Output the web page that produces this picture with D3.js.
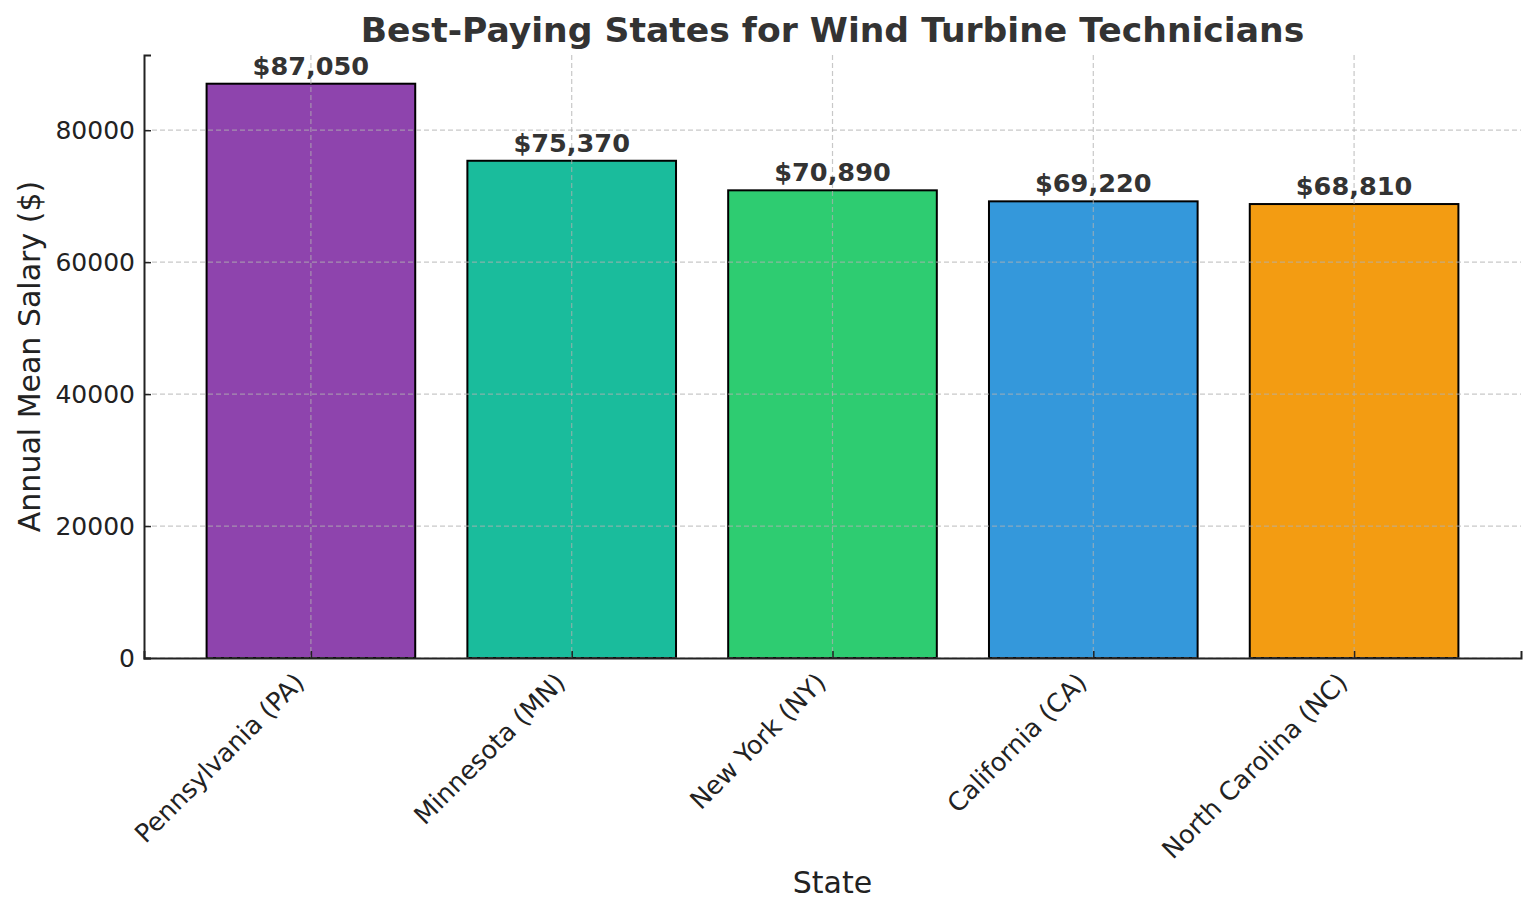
<!DOCTYPE html>
<html>
<head>
<meta charset="utf-8">
<script src="https://cdn.jsdelivr.net/npm/d3@7"></script>
<style>
  body { margin: 0; background: #fff; }
  text { font-family: "DejaVu Sans", sans-serif; }
</style>
</head>
<body>
<div class="chart-container"></div>
<script>
const states = ["Pennsylvania (PA)", "Minnesota (MN)", "New York (NY)", "California (CA)", "North Carolina (NC)"];
const salaries = [87050, 75370, 70890, 69220, 68810];
const barColors = ["#8e44ad", "#1abc9c", "#2ecc71", "#3498db", "#f39c12"];
const yTicks = [0, 20000, 40000, 60000, 80000];

const width = 1536;
const height = 916;
const margin = { top: 55, right: 15, bottom: 258, left: 144 };
const innerW = width - margin.left - margin.right;
const innerH = height - margin.top - margin.bottom;

const svg = d3
  .select(".chart-container")
  .append("svg")
  .attr("width", width)
  .attr("height", height);

const g = svg.append("g").attr("transform", `translate(${margin.left},${margin.top})`);

// matplotlib-like limits: bars of width 0.8, 5% margins
const x = d3.scaleLinear().domain([-0.64, states.length - 1 + 0.64]).range([0, innerW]);
const y = d3.scaleLinear().domain([0, d3.max(salaries) * 1.05]).range([innerH, 0]);
const barW = x(0.8) - x(0);

// bars
g.selectAll("rect.bar")
  .data(salaries)
  .enter()
  .append("rect")
  .attr("class", "bar")
  .attr("x", (d, i) => x(i) - barW / 2)
  .attr("y", (d) => y(d))
  .attr("width", barW)
  .attr("height", (d) => y(0) - y(d))
  .style("fill", (d, i) => barColors[i])
  .attr("stroke", "#000")
  .attr("stroke-width", 2);

// grid on top of bars
const grid = g.append("g").attr("class", "grid");
grid.selectAll("line.h")
  .data(yTicks)
  .enter()
  .append("line")
  .attr("x1", 0)
  .attr("x2", innerW)
  .attr("y1", (d) => y(d))
  .attr("y2", (d) => y(d));
grid.selectAll("line.v")
  .data(states)
  .enter()
  .append("line")
  .attr("x1", (d, i) => x(i))
  .attr("x2", (d, i) => x(i))
  .attr("y1", 0)
  .attr("y2", innerH);
grid.selectAll("line")
  .attr("stroke", "#b0b0b0")
  .attr("stroke-opacity", 0.7)
  .attr("stroke-width", 1.2)
  .style("stroke-dasharray", "5, 3");

// y axis (ticks point inward)
const yAxis = g.append("g")
  .call(d3.axisLeft(y).tickValues(yTicks).tickFormat(d3.format("d")).tickSize(-7).tickPadding(9));
yAxis.select(".domain").attr("stroke", "#222").attr("stroke-width", 2);
yAxis.selectAll(".tick line").attr("stroke", "#222").attr("stroke-width", 1.5);
yAxis.selectAll(".tick text")
  .attr("fill", "#222")
  .style("font-size", "25px")
  .style("font-family", "DejaVu Sans");

// x axis
const xAxis = g.append("g")
  .attr("transform", `translate(0,${innerH})`)
  .call(d3.axisBottom(x).tickValues(d3.range(states.length)).tickFormat("").tickSize(-7));
xAxis.select(".domain").attr("stroke", "#222").attr("stroke-width", 2);
xAxis.selectAll(".tick line").attr("stroke", "#222").attr("stroke-width", 1.5);

g.append("g")
  .selectAll("text")
  .data(states)
  .enter()
  .append("text")
  .attr("transform", (d, i) => `translate(${x(i) - 5},${innerH + 26}) rotate(-45)`)
  .attr("text-anchor", "end")
  .attr("fill", "#222")
  .style("font-size", "25.5px")
  .text((d) => d);

// value labels
g.selectAll("text.value")
  .data(salaries)
  .enter()
  .append("text")
  .attr("class", "value")
  .attr("x", (d, i) => x(i))
  .attr("y", (d) => y(d) - 9)
  .attr("text-anchor", "middle")
  .attr("fill", "#333")
  .style("font-size", "25.6px")
  .style("font-weight", "bold")
  .text((d) => "$" + d3.format(",")(d));

// title and axis labels
svg.append("text")
  .attr("x", margin.left + innerW / 2)
  .attr("y", 42)
  .attr("text-anchor", "middle")
  .attr("fill", "#333")
  .style("font-size", "34.6px")
  .style("font-weight", "bold")
  .text("Best-Paying States for Wind Turbine Technicians");

svg.append("text")
  .attr("x", margin.left + innerW / 2)
  .attr("y", 893)
  .attr("text-anchor", "middle")
  .attr("fill", "#222")
  .style("font-size", "30px")
  .text("State");

svg.append("text")
  .attr("transform", `translate(40,${margin.top + innerH / 2}) rotate(-90)`)
  .attr("text-anchor", "middle")
  .attr("fill", "#222")
  .style("font-size", "30px")
  .text("Annual Mean Salary ($)");
</script>
</body>
</html>
